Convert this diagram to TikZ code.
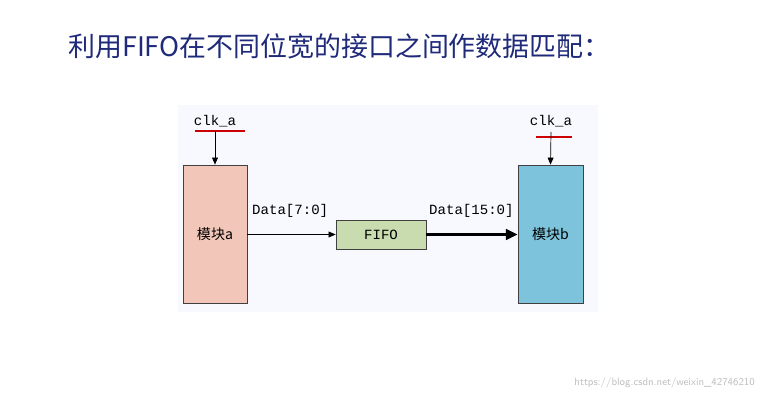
\documentclass[tikz,border=0pt]{standalone}
\usepackage{fontspec}
\newfontfamily\cjk{Noto Sans CJK SC}
\newfontfamily\mono{Liberation Mono}
\usetikzlibrary{arrows.meta}
\definecolor{titleblue}{HTML}{1F2A7A}
\definecolor{pa}{HTML}{F2C6B8}
\definecolor{pb}{HTML}{7CC3DB}
\definecolor{pf}{HTML}{C8DCB0}
\definecolor{panel}{HTML}{F8F9FE}
\tikzset{
  blk/.style={draw=black!75, line width=0.6pt, inner sep=0pt},
  lbl/.style={font=\mono\fontsize{12}{14}\selectfont, inner sep=0pt},
  sig/.style={-{Triangle[length=6pt,width=5pt]}, line width=0.6pt},
  clkline/.style={draw=red!80!black, line width=1pt}
}
\begin{document}
\begin{tikzpicture}[x=0.03cm,y=-0.03cm]
\fill[white] (0,0) rectangle (763,403);
\useasboundingbox (0,0) rectangle (763,403);
\node[anchor=west, text=titleblue, font=\cjk\fontsize{23}{26}\selectfont, inner sep=0pt] (title) at (68,46) {利用FIFO在不同位宽的接口之间作数据匹配：};
\fill[panel] (178,105) rectangle (598,312);
\node[blk, fill=pa, minimum width=64*0.03cm, minimum height=138*0.03cm] (a) at (215,234) {};
\node[font=\cjk\fontsize{12}{14}\selectfont, inner sep=0pt] at (a) {模块a};
\node[blk, fill=pb, minimum width=65*0.03cm, minimum height=138*0.03cm] (b) at (550.5,234) {};
\node[font=\cjk\fontsize{12}{14}\selectfont, inner sep=0pt] at (b) {模块b};
\node[blk, fill=pf, minimum width=90*0.03cm, minimum height=29*0.03cm, font=\mono\fontsize{12}{14}\selectfont] (f) at (381,234.5) {FIFO};
\node[lbl] (ca) at (215,121) {clk\_a};
\node[lbl] (cb) at (551,121) {clk\_a};
\coordinate (ra1) at (195,131); \coordinate (ra2) at (245,131);
\coordinate (rb1) at (536,137); \coordinate (rb2) at (572,137);
\draw[clkline] (ra1) -- (ra2);
\draw[clkline] (rb1) -- (rb2);
\coordinate (sa) at (215,131);
\coordinate (sb) at (551,132);
\draw[sig] (sa) -- (a.north);
\draw[sig] (sb) -- (b.north);
\draw[sig] (a.east |- f.west) -- (f.west);
\draw[-{Triangle[length=10pt,width=9pt]}, line width=3pt] (f.east) -- (b.west |- f.east);
\node[lbl, anchor=south west] (d1) at (252,218) {Data[7:0]};
\node[lbl, anchor=south west] (d2) at (429,218) {Data[15:0]};
\node[anchor=east, text=black!25, font=\sffamily\fontsize{9}{11}\selectfont, inner sep=0pt] (wm) at (755,383) {https://blog.csdn.net/weixin\_42746210};
\end{tikzpicture}
\end{document}
